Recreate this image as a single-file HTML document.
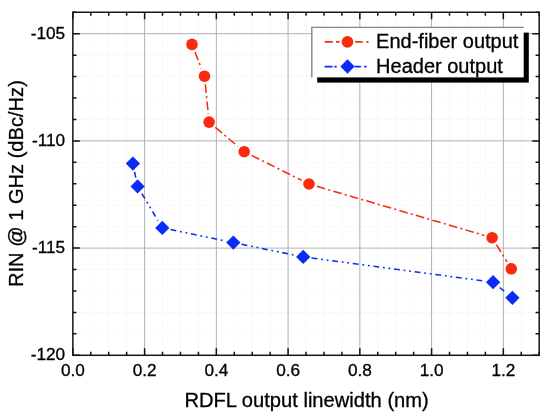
<!DOCTYPE html><html><head><meta charset="utf-8"><title>RIN vs linewidth</title>
<style>html,body{margin:0;padding:0;background:#fff}svg{display:block}text{font-family:"Liberation Sans",Arial,sans-serif;fill:#000;stroke:#000;stroke-width:0.3px}</style></head><body>
<svg width="550" height="414" viewBox="0 0 550 414">
<rect width="550" height="414" fill="#fff"/>
<path d="M90.79 12.25 V355.3 M108.72 12.25 V355.3 M126.66 12.25 V355.3 M162.53 12.25 V355.3 M180.47 12.25 V355.3 M198.41 12.25 V355.3 M234.28 12.25 V355.3 M252.22 12.25 V355.3 M270.15 12.25 V355.3 M306.02 12.25 V355.3 M323.96 12.25 V355.3 M341.90 12.25 V355.3 M377.77 12.25 V355.3 M395.71 12.25 V355.3 M413.64 12.25 V355.3 M449.52 12.25 V355.3 M467.45 12.25 V355.3 M485.39 12.25 V355.3 M521.26 12.25 V355.3 M72.85 333.86 H539.2 M72.85 312.42 H539.2 M72.85 290.98 H539.2 M72.85 269.54 H539.2 M72.85 226.66 H539.2 M72.85 205.22 H539.2 M72.85 183.78 H539.2 M72.85 162.33 H539.2 M72.85 119.45 H539.2 M72.85 98.01 H539.2 M72.85 76.57 H539.2 M72.85 55.13 H539.2" stroke="#f8f8f8" stroke-width="1" fill="none"/>
<path d="M144.60 12.25 V355.3 M216.34 12.25 V355.3 M288.09 12.25 V355.3 M359.83 12.25 V355.3 M431.58 12.25 V355.3 M503.33 12.25 V355.3 M72.85 33.69 H539.2 M72.85 140.89 H539.2 M72.85 248.10 H539.2" stroke="#b0b0b0" stroke-width="1" fill="none"/>
<path d="M72.85 355.3 v-7.0 M72.85 12.25 v7.0 M90.79 355.3 v-3.6 M90.79 12.25 v3.6 M108.72 355.3 v-3.6 M108.72 12.25 v3.6 M126.66 355.3 v-3.6 M126.66 12.25 v3.6 M144.60 355.3 v-7.0 M144.60 12.25 v7.0 M162.53 355.3 v-3.6 M162.53 12.25 v3.6 M180.47 355.3 v-3.6 M180.47 12.25 v3.6 M198.41 355.3 v-3.6 M198.41 12.25 v3.6 M216.34 355.3 v-7.0 M216.34 12.25 v7.0 M234.28 355.3 v-3.6 M234.28 12.25 v3.6 M252.22 355.3 v-3.6 M252.22 12.25 v3.6 M270.15 355.3 v-3.6 M270.15 12.25 v3.6 M288.09 355.3 v-7.0 M288.09 12.25 v7.0 M306.02 355.3 v-3.6 M306.02 12.25 v3.6 M323.96 355.3 v-3.6 M323.96 12.25 v3.6 M341.90 355.3 v-3.6 M341.90 12.25 v3.6 M359.83 355.3 v-7.0 M359.83 12.25 v7.0 M377.77 355.3 v-3.6 M377.77 12.25 v3.6 M395.71 355.3 v-3.6 M395.71 12.25 v3.6 M413.64 355.3 v-3.6 M413.64 12.25 v3.6 M431.58 355.3 v-7.0 M431.58 12.25 v7.0 M449.52 355.3 v-3.6 M449.52 12.25 v3.6 M467.45 355.3 v-3.6 M467.45 12.25 v3.6 M485.39 355.3 v-3.6 M485.39 12.25 v3.6 M503.33 355.3 v-7.0 M503.33 12.25 v7.0 M521.26 355.3 v-3.6 M521.26 12.25 v3.6 M539.20 355.3 v-3.6 M539.20 12.25 v3.6 M72.85 355.30 h7.0 M539.2 355.30 h-7.0 M72.85 333.86 h3.6 M539.2 333.86 h-3.6 M72.85 312.42 h3.6 M539.2 312.42 h-3.6 M72.85 290.98 h3.6 M539.2 290.98 h-3.6 M72.85 269.54 h3.6 M539.2 269.54 h-3.6 M72.85 248.10 h7.0 M539.2 248.10 h-7.0 M72.85 226.66 h3.6 M539.2 226.66 h-3.6 M72.85 205.22 h3.6 M539.2 205.22 h-3.6 M72.85 183.78 h3.6 M539.2 183.78 h-3.6 M72.85 162.33 h3.6 M539.2 162.33 h-3.6 M72.85 140.89 h7.0 M539.2 140.89 h-7.0 M72.85 119.45 h3.6 M539.2 119.45 h-3.6 M72.85 98.01 h3.6 M539.2 98.01 h-3.6 M72.85 76.57 h3.6 M539.2 76.57 h-3.6 M72.85 55.13 h3.6 M539.2 55.13 h-3.6 M72.85 33.69 h7.0 M539.2 33.69 h-7.0 M72.85 12.25 h3.6 M539.2 12.25 h-3.6" stroke="#111" stroke-width="1.5" fill="none"/>
<path d="M195.00 52.03 L201.50 68.57 M205.32 84.36 L208.28 113.94 M215.37 127.39 L237.93 146.41 M251.54 155.36 L301.66 180.34 M316.87 186.31 L484.23 235.39 M496.41 244.68 L506.99 261.82" stroke="#f92a0e" stroke-width="1.55" fill="none" stroke-dasharray="8.6 3.2 2.1 3.3"/>
<path d="M134.60 171.83 L135.90 178.17 M141.90 193.62 L158.00 220.68 M170.53 229.60 L225.07 240.90 M241.53 244.28 L294.97 255.22 M311.53 258.01 L484.77 281.09 M499.63 287.48 L505.87 292.52" stroke="#0a2cf5" stroke-width="1.55" fill="none" stroke-dasharray="5.9 3.75 1.85 3.75 1.85 3.7"/>
<circle cx="192.0" cy="44.4" r="5.8" fill="#f92a0e"/>
<circle cx="204.5" cy="76.2" r="5.8" fill="#f92a0e"/>
<circle cx="209.1" cy="122.1" r="5.8" fill="#f92a0e"/>
<circle cx="244.2" cy="151.7" r="5.8" fill="#f92a0e"/>
<circle cx="309.0" cy="184.0" r="5.8" fill="#f92a0e"/>
<circle cx="492.1" cy="237.7" r="5.8" fill="#f92a0e"/>
<circle cx="511.3" cy="268.8" r="5.8" fill="#f92a0e"/>
<path d="M132.9 156.45 L140.05 163.6 L132.9 170.75 L125.75 163.6 Z" fill="#0a2cf5"/>
<path d="M137.6 179.25 L144.75 186.4 L137.6 193.55 L130.45 186.4 Z" fill="#0a2cf5"/>
<path d="M162.3 220.75 L169.45000000000002 227.9 L162.3 235.05 L155.15 227.9 Z" fill="#0a2cf5"/>
<path d="M233.3 235.45 L240.45000000000002 242.6 L233.3 249.75 L226.15 242.6 Z" fill="#0a2cf5"/>
<path d="M303.2 249.74999999999997 L310.34999999999997 256.9 L303.2 264.04999999999995 L296.05 256.9 Z" fill="#0a2cf5"/>
<path d="M493.1 275.05 L500.25 282.2 L493.1 289.34999999999997 L485.95000000000005 282.2 Z" fill="#0a2cf5"/>
<path d="M512.4 290.65000000000003 L519.55 297.8 L512.4 304.95 L505.25 297.8 Z" fill="#0a2cf5"/>
<rect x="72.85" y="12.25" width="466.35" height="343.05" fill="none" stroke="#161616" stroke-width="1.5"/>
<text x="72.85" y="376.3" font-size="17.2" stroke-width="0.15" text-anchor="middle">0.0</text>
<text x="144.60" y="376.3" font-size="17.2" stroke-width="0.15" text-anchor="middle">0.2</text>
<text x="216.34" y="376.3" font-size="17.2" stroke-width="0.15" text-anchor="middle">0.4</text>
<text x="288.09" y="376.3" font-size="17.2" stroke-width="0.15" text-anchor="middle">0.6</text>
<text x="359.83" y="376.3" font-size="17.2" stroke-width="0.15" text-anchor="middle">0.8</text>
<text x="431.58" y="376.3" font-size="17.2" stroke-width="0.15" text-anchor="middle">1.0</text>
<text x="503.33" y="376.3" font-size="17.2" stroke-width="0.15" text-anchor="middle">1.2</text>
<text x="65.1" y="38.69" font-size="17.2" stroke-width="0.15" text-anchor="end">-105</text>
<text x="65.1" y="145.89" font-size="17.2" stroke-width="0.15" text-anchor="end">-110</text>
<text x="65.1" y="253.10" font-size="17.2" stroke-width="0.15" text-anchor="end">-115</text>
<text x="65.1" y="360.30" font-size="17.2" stroke-width="0.15" text-anchor="end">-120</text>
<text x="306.6" y="406.5" font-size="20.15" text-anchor="middle">RDFL output linewidth (nm)</text>
<text transform="translate(22.9 183.6) rotate(-90)" font-size="20.1" text-anchor="middle">RIN @ 1 GHz (dBc/Hz)</text>
<rect x="317.2" y="32.6" width="211.6" height="50" fill="#000"/>
<rect x="311.8" y="27.4" width="211.9" height="50" fill="#fff"/>
<path d="M311.8 77.4 V27.4 H523.7" fill="none" stroke="#858585" stroke-width="1.4"/>
<path d="M324.6 41.9 H332.8 M336 41.9 H339.4 M355.2 41.9 H362.7 M366.3 41.9 H368.5" stroke="#f92a0e" stroke-width="1.7" fill="none"/>
<circle cx="347.5" cy="41.9" r="5.8" fill="#f92a0e"/>
<path d="M324.6 66.6 H332.6 M334.3 66.6 H336.7 M354.5 66.6 H360.9 M364.1 66.6 H366.5" stroke="#0a2cf5" stroke-width="1.7" fill="none"/>
<path d="M347.5 59.35 L354.65 66.5 L347.5 73.65 L340.35 66.5 Z" fill="#0a2cf5"/>
<text x="376.1" y="48.4" font-size="20">End-fiber output</text>
<text x="376.1" y="72.8" font-size="20">Header output</text>
</svg></body></html>
